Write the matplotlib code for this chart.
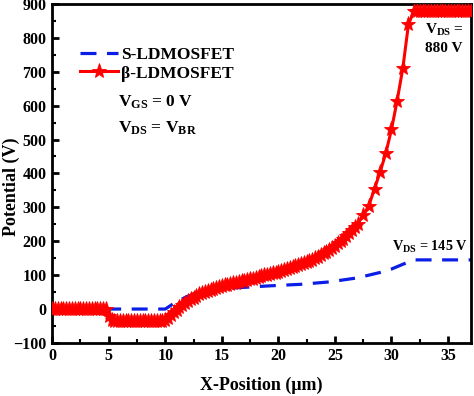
import numpy as np
import matplotlib.pyplot as plt
from matplotlib.ticker import MultipleLocator

plt.rcParams['font.family'] = ['Liberation Serif', 'DejaVu Serif']
plt.rcParams['font.weight'] = 'bold'
plt.rcParams['mathtext.fontset'] = 'custom'
plt.rcParams['mathtext.rm'] = 'Liberation Serif:bold'
plt.rcParams['mathtext.it'] = 'Liberation Serif:bold'
plt.rcParams['mathtext.bf'] = 'Liberation Serif:bold'

# beta-LDMOSFET potential (red stars), sampled on the simulation grid
x_beta = np.concatenate([np.arange(0, 27.01, 0.25),
                         np.arange(27.5, 32.01, 0.5),
                         np.arange(32.25, 37.01, 0.25)])
v_beta = [0, 0, 0, 0, 0, 0, 0, 0, 0, 0, 0, 0, 0, 0, 0, 0, 0, 0, 0, 0,          # 0 .. 4.75
          -20, -33,                                                              # 5 .. 5.25
          -35, -35, -35, -35, -35, -35, -35, -35, -35, -35, -35, -35, -35, -35,
          -35, -35, -35, -35,                                                    # 5.5 .. 9.75
          -32, -25, -17, -9, -2, 5, 11, 18, 24, 29, 34, 39, 43, 47, 50, 53,       # 10 .. 13.75
          56, 59, 62, 65, 67, 70, 72, 74, 76, 78, 80, 82, 84, 86, 88, 90,         # 14 .. 17.75
          92, 94.5, 97, 99, 101, 103, 105, 107.5, 110, 112.5, 115, 117.5, 120,
          123, 126, 129,                                                         # 18 .. 21.75
          132, 135, 138.5, 142, 146, 150, 154.5, 159, 164, 169, 174.5, 180.5,
          187, 194, 201, 208, 216, 224, 232, 242, 252,                           # 22 .. 27
          276, 305, 355, 405, 460, 530, 615, 710, 840, 880,                      # 27.5 .. 32
          880, 880, 880, 880, 880, 880, 880, 880, 880, 880, 880, 880, 880, 880,
          880, 880, 880, 880, 880, 880]                                          # 32.25 .. 37

# S-LDMOSFET potential (blue dashed)
x_s = [0, 10, 11, 12, 13, 14, 15, 16, 19, 22, 24.5, 27, 28, 29, 30, 31, 32, 37]
v_s = [0, 0, 22, 38, 48, 55, 59, 62, 68, 73, 80, 92, 100, 108, 118, 132, 145, 145]

fig = plt.figure(figsize=(4.74, 3.96), dpi=100)
ax = fig.add_axes([0.11, 0.134, 0.883, 0.856])

ax.plot(x_s, v_s, color='#0a1ee6', lw=2.3, dashes=(5, 3.3), label='S-LDMOSFET', zorder=2)
ax.plot(x_beta, v_beta, color='#ff0000', lw=2.2, marker='*', ms=11,
        markeredgewidth=0.6, label='β-LDMOSFET', zorder=3)

ax.set_xlim(0, 37)
ax.set_ylim(-100, 900)
ax.xaxis.set_major_locator(MultipleLocator(5))
ax.xaxis.set_minor_locator(MultipleLocator(2.5))
ax.yaxis.set_major_locator(MultipleLocator(100))
ax.yaxis.set_minor_locator(MultipleLocator(50))
ax.tick_params(which='major', direction='in', length=5, width=2, labelsize=11.5, pad=4)
ax.tick_params(which='minor', direction='in', length=3, width=1.5)
for s in ax.spines.values():
    s.set_linewidth(2)
for lab in ax.get_xticklabels() + ax.get_yticklabels():
    lab.set_fontweight('bold')

ax.set_xlabel('X-Position (μm)', fontsize=13, fontweight='bold', labelpad=9)
ax.set_ylabel('Potential (V)', fontsize=13, fontweight='bold')
ax.yaxis.set_label_coords(-0.076, 0.46)

leg = ax.legend(loc='upper left', bbox_to_anchor=(0.037, 0.91), frameon=False,
                prop={'weight': 'bold', 'size': 12.5}, handlelength=2.2,
                handletextpad=0.2, borderaxespad=0.3, labelspacing=0.15)

ax.text(0.158, 0.711, r'V$_{\mathrm{GS}}$ = 0 V', transform=ax.transAxes,
        fontsize=12.5, fontweight='bold', va='center')
ax.text(0.158, 0.634, r'V$_{\mathrm{DS}}$ = V$_{\mathrm{BR}}$', transform=ax.transAxes,
        fontsize=12.5, fontweight='bold', va='center')
ax.text(0.89, 0.923, r'V$_{\mathrm{DS}}$ =', transform=ax.transAxes,
        fontsize=11, fontweight='bold', va='center')
ax.text(0.89, 0.868, '880 V', transform=ax.transAxes,
        fontsize=11, fontweight='bold', va='center')
ax.text(0.812, 0.283, r'V$_{\mathrm{DS}}$ = 145 V', transform=ax.transAxes,
        fontsize=10.3, fontweight='bold', va='center')

fig.savefig('out.png', dpi=100)
